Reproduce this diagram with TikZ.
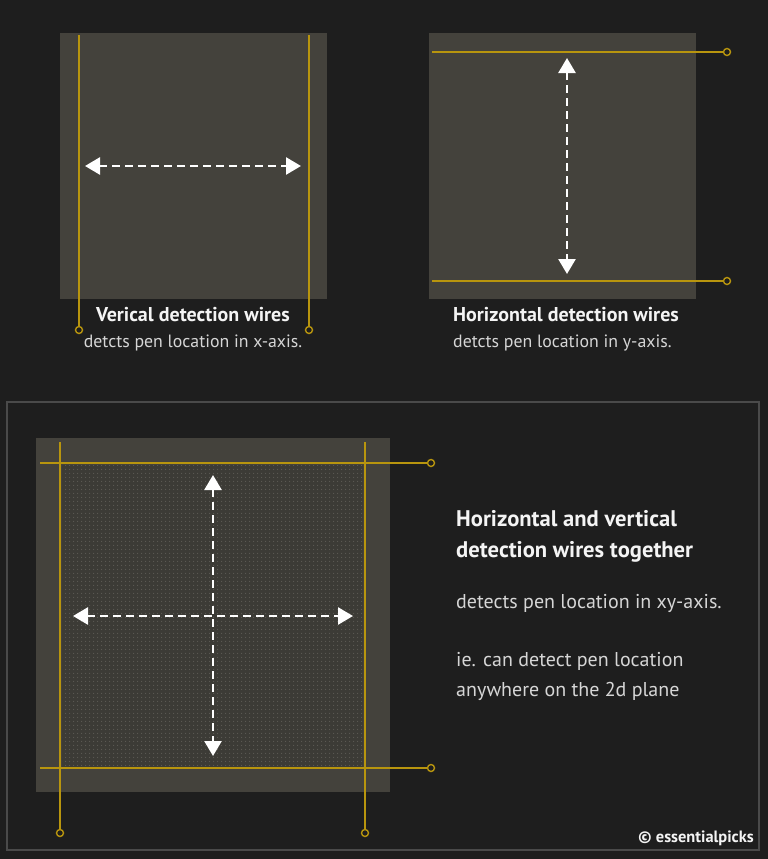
\documentclass[tikz,border=0pt]{standalone}
\usepackage{fontspec}
\setmainfont{PT Sans}
\usepackage{xcolor}
\usetikzlibrary{arrows.meta,patterns.meta}
\definecolor{bgdark}{HTML}{1E1E1E}
\definecolor{board}{HTML}{44423C}
\definecolor{boardin}{HTML}{3C3B36}
\definecolor{wiregold}{HTML}{B8950E}
\definecolor{framegray}{HTML}{4A4A4A}
\definecolor{dotgray}{HTML}{5E5C56}
\definecolor{txtwhite}{HTML}{F4F4F4}
\definecolor{txtgray}{HTML}{D6D6D6}
\tikzdeclarepattern{name=pixdots,type=uncolored,
  bounding box={(0pt,0pt) and (4pt,4pt)},tile size={(4pt,4pt)},
  code={\fill (2pt,2pt) circle (0.7pt);}}
\tikzset{
  panel/.style={fill=board},
  wire/.style={draw=wiregold,line width=1.6pt},
  pin/.style={circle,draw=wiregold,fill=bgdark,line width=1.4pt,
              minimum size=7pt,inner sep=0pt},
  sweep/.style={{Triangle[length=15pt,width=17pt]}-{Triangle[length=15pt,width=17pt]},
                white,line width=2.6pt,dash pattern=on 8pt off 5pt},
  title/.style={font=\bfseries\fontsize{20}{24}\selectfont,text=txtwhite,inner sep=0pt},
  note/.style={font=\fontsize{17.8}{24}\selectfont,text=txtgray,inner sep=0pt},
  bigtitle/.style={font=\bfseries\fontsize{22.6}{31}\selectfont,text=txtwhite,
                   inner sep=0pt,align=left},
  bignote/.style={font=\fontsize{20}{30}\selectfont,text=txtgray,
                  inner sep=0pt,align=left}
}

\begin{document}
\begin{tikzpicture}[x=1pt,y=-1pt]
  \fill[bgdark] (0,0) rectangle (768,859);
  \useasboundingbox (0,0) rectangle (768,859);

  % vertical wires
  \fill[panel] (60,33) rectangle (327,299);
  \node[pin] (vpinl) at (79,330) {};
  \node[pin] (vpinr) at (309,330) {};
  \draw[wire] (79,35) -- (vpinl);
  \draw[wire] (309,35) -- (vpinr);
  \coordinate (vleft) at (85,166);
  \coordinate (vright) at (301,166);
  \draw[sweep] (vleft) -- (vright);
  \node[title] (vtitle) at (193,315) {Verical detection wires};
  \node[note] (vnote) at (193,343) {detcts pen location in x-axis.};

  % horizontal wires
  \fill[panel] (429,33) rectangle (696,299);
  \node[pin] (hpint) at (727,52) {};
  \node[pin] (hpinb) at (727,281) {};
  \draw[wire] (432,52) -- (hpint);
  \draw[wire] (432,281) -- (hpinb);
  \coordinate (htop) at (567,58);
  \coordinate (hbot) at (567,274);
  \draw[sweep] (htop) -- (hbot);
  \node[title,anchor=west] (htitle) at (453,315) {Horizontal detection wires};
  \node[note,anchor=west] (hnote) at (453,343) {detcts pen location in y-axis.};

  % both together
  \draw[framegray,line width=2pt] (7,402) rectangle (759,850);
  \fill[panel] (36,438) rectangle (390,792);
  \fill[boardin] (62,465) rectangle (363,767);
  \fill[pattern=pixdots,pattern color=dotgray] (62,465) rectangle (363,767);
  \node[pin] (xpinl) at (60,833) {};
  \node[pin] (xpinr) at (365,833) {};
  \node[pin] (ypint) at (431,463) {};
  \node[pin] (ypinb) at (431,768) {};
  \draw[wire] (60,442) -- (xpinl);
  \draw[wire] (365,442) -- (xpinr);
  \draw[wire] (40,463) -- (ypint);
  \draw[wire] (40,768) -- (ypinb);
  \coordinate (xyleft) at (73,616);
  \coordinate (xyright) at (353,616);
  \coordinate (xytop) at (213,475);
  \coordinate (xybot) at (213,756);
  \draw[sweep] (xytop) -- (xybot);
  \draw[sweep] (xyleft) -- (xyright);
  \node[bigtitle,anchor=base west] (xytitle) at (456,557)
    {Horizontal and vertical\\detection wires together};
  \node[bignote,anchor=west] (xynote) at (456,603) {detects pen location in xy-axis.};
  \node[bignote,anchor=base west] (xymore) at (456,696)
    {ie. can detect pen location\\anywhere on the 2d plane};
  \node[font=\bfseries\fontsize{16.4}{18}\selectfont,text=txtwhite,anchor=east,inner sep=0pt]
    (credit) at (754,838) {© essentialpicks};
\end{tikzpicture}
\end{document}
